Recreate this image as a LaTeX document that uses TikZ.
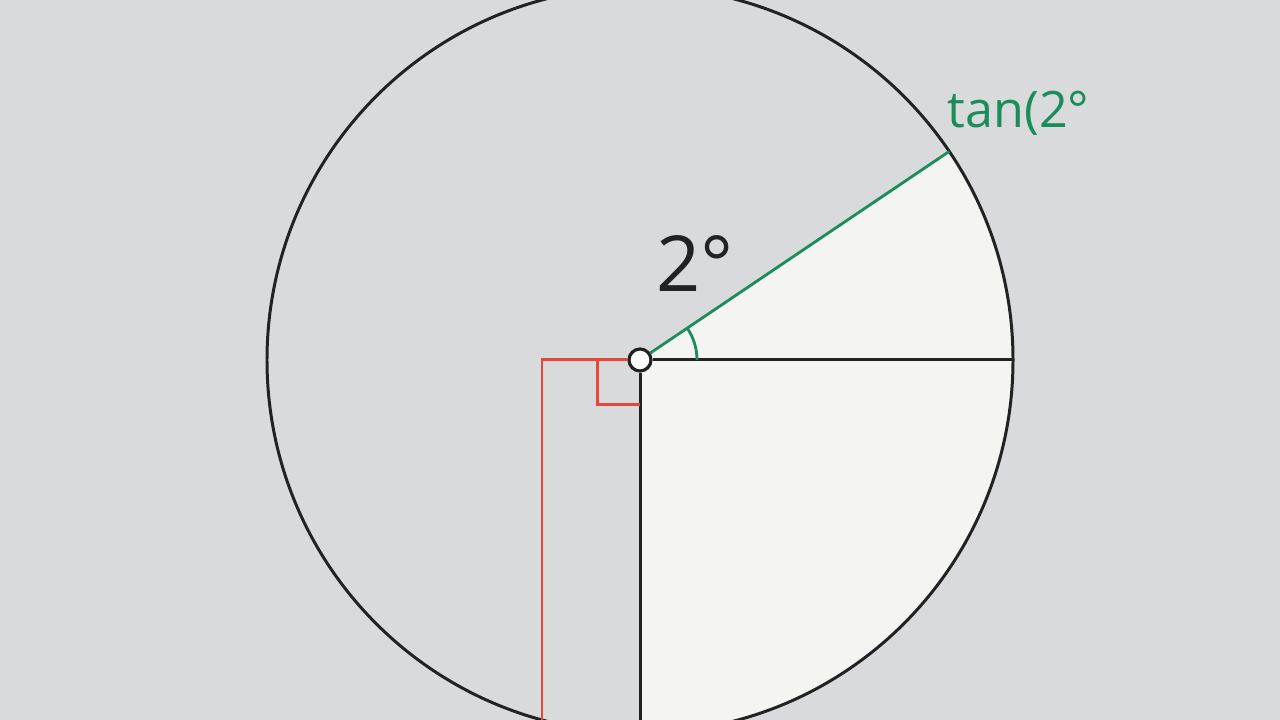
\documentclass[tikz,border=0pt]{standalone}
\usepackage{fontspec}
\setmainfont{Open Sans}
\usetikzlibrary{positioning}
\definecolor{bgGray}{HTML}{D9DADC}
\definecolor{paleFill}{HTML}{F4F4F3}
\definecolor{rayGreen}{HTML}{1B8C5C}
\definecolor{markRed}{HTML}{E8463C}
\definecolor{inkDark}{HTML}{222222}

\begin{document}
\begin{tikzpicture}[
    blackline/.style={line width=0.85pt, inkDark},
    greenray/.style={line width=0.8pt, rayGreen},
    redmark/.style={line width=0.85pt, markRed}]
    \fill[bgGray] (-6.4,-3.6) rectangle (6.4,3.6);
    \useasboundingbox (-6.4,-3.6) rectangle (6.4,3.6);
    \begin{scope}
      \clip (-6.4,-3.6) rectangle (6.4,3.6);
      % shaded regions
      \fill[paleFill] (0,0) -- (3.73,0) arc (0:34:3.73) -- cycle;
      \fill[paleFill] (0,0) -- (0,-3.73) arc (-90:0:3.73) -- cycle;
      \draw[blackline] (0,0) circle (3.73);
    \end{scope}
    \node[circle, draw=inkDark, line width=0.9pt, fill=white, inner sep=0pt, minimum size=0.22cm] (O) at (0,0) {};
    \coordinate (T) at (34:3.73);
    \coordinate (E) at (3.73,0);
    \coordinate (S) at (0,-3.6);
    \coordinate (R) at (-0.98,-3.6);
    \coordinate (Rt) at (-0.98,0);
    % rays
    \draw[blackline] (O) -- (E);
    \draw[blackline] (O) -- (S);
    \draw[greenray] (O) -- (T);
    \draw[greenray] (0.57,0) arc (0:34:0.57);
    % right angle
    \draw[redmark] (R) -- (Rt) -- (O);
    \draw[redmark] (-0.43,0) -- (-0.43,-0.45) -- (0,-0.45);
    % labels
    \node[anchor=base west, inner sep=0pt, text=inkDark, font=\fontsize{22}{26}\selectfont] (ang) at (0.16,0.68) {2°};
    \node[anchor=base west, inner sep=0pt, text=rayGreen, font=\fontsize{14.3}{17}\selectfont] (tanlbl) at (3.07,2.32) {tan(2°};
\end{tikzpicture}
\end{document}
